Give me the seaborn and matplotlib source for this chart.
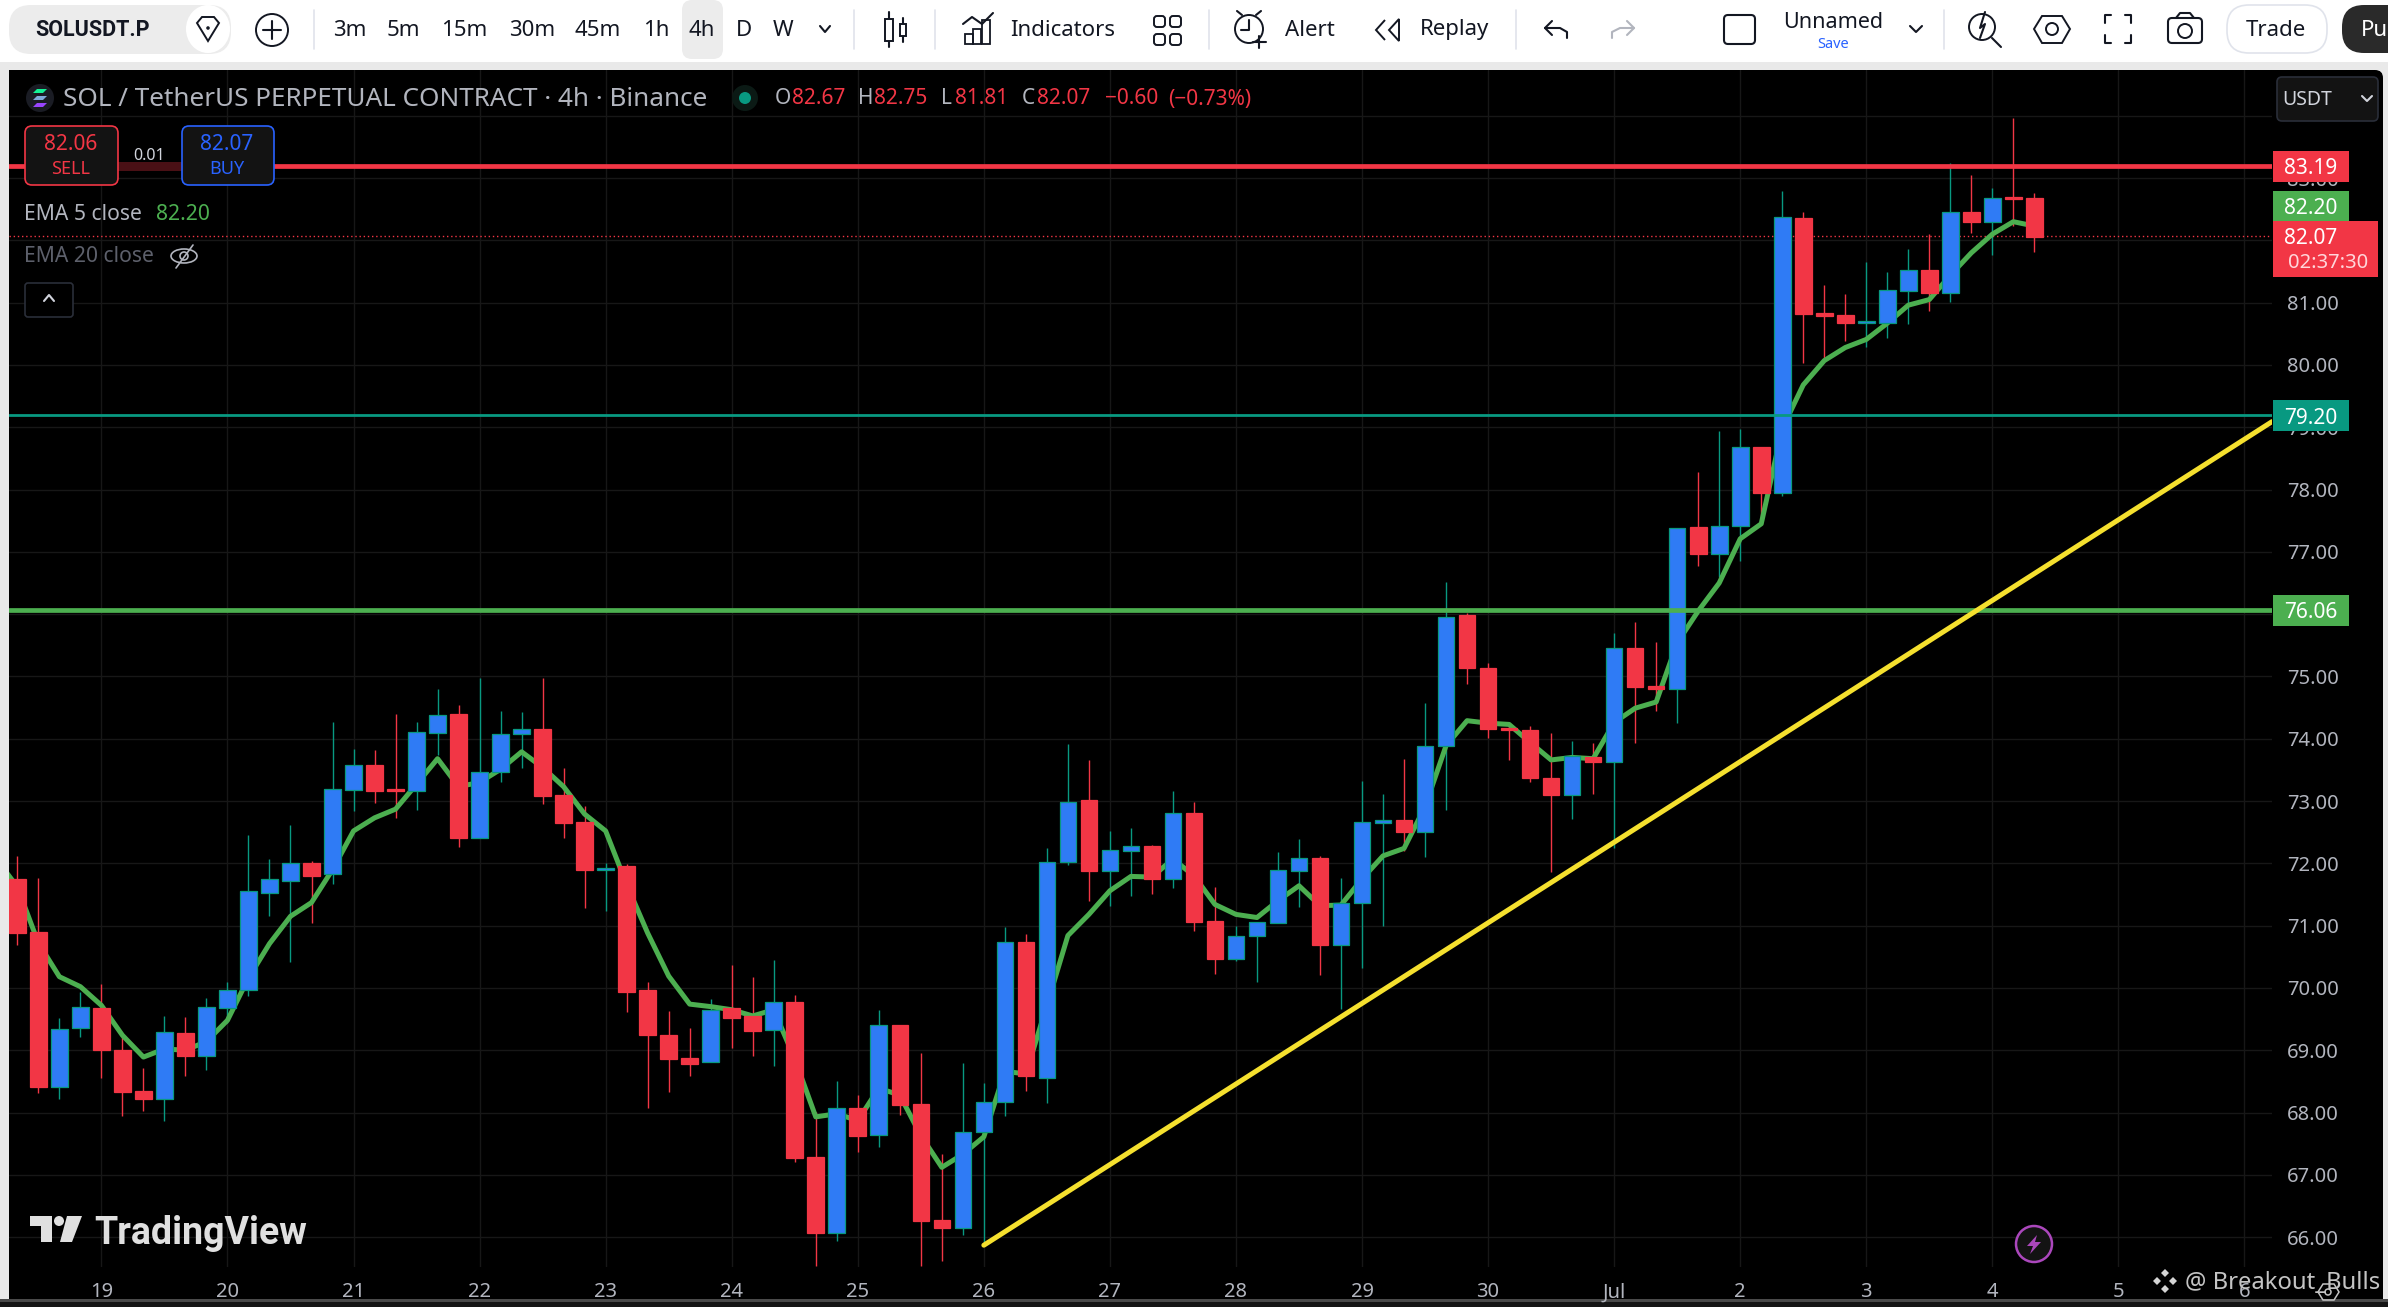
import numpy as np
import pandas as pd
import matplotlib
matplotlib.use("Agg")
import matplotlib.pyplot as plt
import seaborn as sns
from matplotlib.patches import Rectangle, Circle, Polygon, FancyBboxPatch, Ellipse

# ---------- data ----------
first_candle = -4   # candle index; 0 = the candle at day "19"
body_tops = [71.75,70.90,69.34,69.69,
 69.68,69.01,68.35,69.29,69.28,69.69,
 69.96,71.56,71.75,72.00,72.00,73.19,
 73.58,73.58,73.18,74.11,74.38,74.40,
 73.46,74.07,74.16,74.16,73.10,72.67,
 71.93,71.96,69.97,69.25,68.88,69.65,
 69.67,69.55,69.77,69.78,67.29,68.08,
 68.08,69.41,69.41,68.14,66.28,67.69,
 68.17,70.74,70.74,72.02,72.99,73.01,
 72.21,72.28,72.28,72.81,72.81,71.07,
 70.83,71.06,71.89,72.08,72.08,71.36,
 72.66,72.69,72.69,73.88,75.96,75.98,
 75.14,74.17,74.14,73.37,73.73,73.71,
 75.45,75.45,74.84,77.38,77.40,77.42,
 78.68,78.68,82.37,82.36,80.83,80.80,
 80.69,81.20,81.52,81.52,82.45,82.45,
 82.68,82.69,82.68]
body_bottoms = [70.88,68.41,68.41,69.35,
 69.01,68.33,68.21,68.21,68.91,68.91,
 69.68,69.96,71.53,71.72,71.80,71.83,
 73.18,73.16,73.16,73.16,74.10,72.41,
 72.41,73.46,74.07,73.08,72.65,71.89,
 71.90,69.94,69.25,68.86,68.78,68.81,
 69.52,69.31,69.33,67.27,66.07,66.07,
 67.63,67.64,68.12,66.26,66.15,66.15,
 67.68,68.17,68.58,68.56,72.02,71.87,
 71.87,72.20,71.75,71.75,71.06,70.46,
 70.46,70.84,71.04,71.88,70.69,70.69,
 71.37,72.65,72.50,72.51,73.89,75.13,
 74.15,74.14,73.37,73.09,73.09,73.63,
 73.63,74.83,74.80,74.80,76.97,76.97,
 77.42,77.95,77.95,80.82,80.79,80.68,
 80.68,80.68,81.19,81.16,81.16,82.30,
 82.30,82.67,82.06]
wick_highs = [72.12,71.77,69.52,69.94,
 70.06,69.24,68.72,69.55,69.54,69.84,
 70.10,72.46,72.07,72.62,72.04,74.27,
 73.84,73.82,74.40,74.27,74.80,74.54,
 74.98,74.45,74.43,74.98,73.53,72.92,
 72.01,71.99,70.09,69.63,69.36,69.83,
 70.37,70.18,70.45,69.89,68.01,68.51,
 68.28,69.65,69.41,68.96,67.34,68.80,
 68.47,70.98,70.86,72.24,73.92,73.66,
 72.52,72.57,72.30,73.16,72.99,71.62,
 70.99,71.06,72.18,72.39,72.12,71.76,
 73.32,73.11,73.67,74.57,76.51,76.02,
 75.21,74.25,74.20,74.09,73.96,73.93,
 75.69,75.87,75.55,77.38,78.28,78.94,
 78.97,78.68,82.79,82.46,81.28,81.14,
 81.65,81.49,81.86,82.10,83.24,83.05,
 82.84,83.96,82.76]
wick_lows = [70.69,68.32,68.21,69.22,
 68.55,67.94,68.03,67.87,68.58,68.69,
 69.44,69.87,71.16,70.42,71.05,71.67,
 72.84,72.97,72.72,72.86,73.74,72.26,
 72.41,73.31,73.53,72.95,72.41,71.28,
 71.24,69.61,68.08,68.33,68.59,68.81,
 69.04,68.91,68.75,67.21,65.53,65.93,
 67.37,67.45,67.96,65.53,65.62,66.04,
 65.86,67.94,68.35,68.15,71.97,71.40,
 71.32,71.48,71.51,71.60,70.91,70.22,
 70.43,70.10,71.04,71.30,70.20,69.66,
 70.32,70.99,72.20,72.10,72.86,74.88,
 74.01,73.66,73.30,71.86,72.71,73.11,
 72.25,73.93,74.44,74.25,76.78,76.59,
 76.85,77.45,77.89,80.03,80.11,80.38,
 80.29,80.43,80.65,80.86,81.01,82.12,
 81.77,82.23,81.81]
directions = list("DDUU" "DDDUDU" "UUUUDU" "UDDUUD" "UUUDDD" "UDDDDU" "DDUDDU"
                  "DUDDDU" "UUDUUD" "UUDUDD" "UUUUDU" "UUDUUD" "DDDDUD" "UDDUDU"
                  "UDUDDD" "UUUDUD" "UDD")
ema5 = [72.07,71.62,70.72,70.18,70.02,
 69.72,69.24,68.89,69.02,69.00,69.14,
 69.48,70.16,70.71,71.15,71.37,71.90,
 72.52,72.73,72.87,73.27,73.68,73.23,
 73.30,73.51,73.79,73.54,73.23,72.79,
 72.52,71.66,70.88,70.19,69.74,69.70,
 69.65,69.55,69.65,68.86,67.93,67.98,
 67.87,68.39,68.28,67.63,67.12,67.33,
 67.61,68.66,68.62,69.72,70.84,71.18,
 71.56,71.79,71.78,72.07,71.80,71.34,
 71.18,71.13,71.40,71.64,71.32,71.33,
 71.75,72.12,72.24,72.91,73.89,74.29,
 74.25,74.23,73.94,73.66,73.70,73.68,
 74.26,74.49,74.59,75.54,76.05,76.50,
 77.21,77.45,78.98,79.68,80.07,80.28,
 80.41,80.67,80.96,81.05,81.44,81.80,
 82.10,82.30,82.23]
ema_first = -5
trend_index = [42, 103.31]
trend_price = [65.87, 79.09]
resistance = 83.19
support_teal = 79.20
support_green = 76.06
last_price = 82.07
price_ticks = list(range(66, 85))
hidden_price_labels = [76, 82, 84]   # fully covered by badges in the reference
day_ticks = list(range(0, 108, 6))
day_labels = ["19","20","21","22","23","24","25","26","27","28","29","30","Jul","2","3","4","5","6"]
timeframes = ["3m","5m","15m","30m","45m","1h","4h","D","W"]

RED, BLUE, TEAL, GREEN, YEL = "#f23645", "#2f7bf5", "#089981", "#4caf50", "#f5e02e"
GREY = "#b2b5be"

sns.set_theme(style="dark")
plt.rcParams["font.family"] = ["Noto Sans", "DejaVu Sans"]

W, H = 2388, 1307
fig = plt.figure(figsize=(W/100, H/100), dpi=100, facecolor="white")

# background layer (pixel coordinates)
bg = fig.add_axes([0, 0, 1, 1], zorder=0)
bg.set_xlim(0, W); bg.set_ylim(H, 0); bg.axis("off")
bg.add_patch(Rectangle((0, 62), W, H-62, fc="#e9e9e9", ec="none"))
bg.add_patch(FancyBboxPatch((14, 75), W-24, H-80, boxstyle="round,pad=5,rounding_size=8", fc="black", ec="none"))
bg.add_patch(Rectangle((0, 1300), W, 7, fc="#151515", ec="none"))
bg.add_patch(Rectangle((0, 1299), W, 2.5, fc="#4a4a4a", ec="none"))

# main chart
L, R, T, B = 9, 2272, 70, 1267
ax = fig.add_axes([L/W, (H-B)/H, (R-L)/W, (B-T)/H], zorder=1, facecolor="black")
ax.set_xlim(-4.398, 103.31)
ax.set_ylim(65.52, 84.735)

candles = pd.DataFrame({"i": np.arange(first_candle, first_candle+len(body_tops)),
                        "top": body_tops, "bot": body_bottoms, "hi": wick_highs, "lo": wick_lows, "d": directions})
for dirn, body, edge, wick in [("U", BLUE, TEAL, TEAL), ("D", RED, RED, RED)]:
    s = candles[candles.d == dirn]
    ax.vlines(s.i, s.lo, s.hi, color=wick, lw=1.0, zorder=3)
    ax.bar(s.i, np.maximum(s.top-s.bot, 0.03), bottom=s.bot, width=0.79, color=body, edgecolor=edge, linewidth=0.9, zorder=4)

ema_df = pd.DataFrame({"i": np.arange(ema_first, ema_first+len(ema5)), "ema": ema5})
sns.lineplot(data=ema_df, x="i", y="ema", ax=ax, color=GREEN, linewidth=3.6, estimator=None, sort=False, legend=False, zorder=3.5)
trend_df = pd.DataFrame({"i": trend_index, "p": trend_price})
sns.lineplot(data=trend_df, x="i", y="p", ax=ax, color=YEL, linewidth=3.6, estimator=None, sort=False, legend=False, zorder=6)

ax.axhline(resistance, color=RED, lw=3.4, zorder=5)
ax.axhline(support_teal, color=TEAL, lw=2.0, zorder=5)
ax.axhline(support_green, color=GREEN, lw=3.4, zorder=5)
ax.axhline(last_price, color=RED, lw=1.0, ls=(0, (1, 2)), zorder=2.5)

ax.set_xticks(day_ticks, day_labels)
ax.set_yticks(price_ticks, ["" if v in hidden_price_labels else f"{v:.2f}" for v in price_ticks])
ax.yaxis.tick_right()
ax.grid(True, color="#171717", lw=1.0, zorder=0)
ax.set_axisbelow(True)
ax.set_xlabel(""); ax.set_ylabel("")
for sp in ax.spines.values():
    sp.set_visible(False)
ax.tick_params(axis="y", length=0, pad=11, labelsize=14.5, labelcolor=GREY)
ax.tick_params(axis="x", length=0, pad=11, labelsize=14.5, labelcolor=GREY)

# overlay (pixel coordinates)
ov = fig.add_axes([0, 0, 1, 1], zorder=2)
ov.set_xlim(0, W); ov.set_ylim(H, 0); ov.axis("off"); ov.patch.set_alpha(0)

DY = 3
def txt(x, y, s, size=16, color="#131722", ha="center", **kw):
    ov.text(x, y+DY, s, fontsize=size, color=color, ha=ha, va="center", **kw)

def pline(xs, ys, color="#131722", lw=1.5, **kw):
    ov.plot(xs, ys, color=color, lw=lw, solid_capstyle="round", **kw)

def rbox(x0, y0, x1, y1, r, fc, ec="none", lw=1.2, z=3):
    ov.add_patch(FancyBboxPatch((x0+r, y0+r), x1-x0-2*r, y1-y0-2*r,
                 boxstyle=f"round,pad={r},rounding_size={r}", fc=fc, ec=ec, lw=lw, zorder=z))

# --- toolbar ---
rbox(9, 5, 231, 54, 22, "#ececec", z=1)
txt(92, 27, "SOLUSDT.P", 15.5, weight="bold", family="Roboto", zorder=4)
ov.add_patch(Ellipse((208, 29), 44, 48, fc="white", ec="none", zorder=3))
ov.add_patch(Polygon([[197, 23], [202, 17], [214, 17], [219, 23], [208, 41]], closed=True, fc="none", ec="#131722", lw=1.4, zorder=4))
ov.add_patch(Circle((208, 28), 2.5, fc="#131722", zorder=4))
ov.add_patch(Circle((272, 30), 16, fc="none", ec="#131722", lw=1.4))
pline([263, 281], [30, 30]); pline([272, 272], [21, 39])
rbox(682, 0, 723, 59, 10, "#ececec", z=1)
tf_x = [350, 403, 464, 532, 598, 656, 702, 744, 783]
for x, s in zip(tf_x, timeframes):
    txt(x, 27, s, 16, weight="medium", zorder=4)
pline([820, 825, 830], [26, 32, 26])
for x in [314, 854, 935, 1209, 1516, 1944]:
    ov.plot([x, x], [10, 49], color="#e0e3eb", lw=1.2)
# candle icon
pline([889, 889], [12, 47]); ov.add_patch(Rectangle((885, 19), 8, 22, fc="white", ec="#131722", lw=1.4, zorder=4))
pline([903, 903], [18, 42]); ov.add_patch(Rectangle((900, 24), 6, 12, fc="white", ec="#131722", lw=1.4, zorder=4))
# indicators icon
pline([963, 972, 982, 993], [24, 17, 24, 13])
for x0, h in [(965, 10), (973, 15), (982, 24)]:
    ov.add_patch(Rectangle((x0, 44-h), 8, h, fc="none", ec="#131722", lw=1.3))
txt(1063, 27, "Indicators", 16, weight="medium")
for (x0, y0) in [(1154, 16), (1170, 16), (1154, 34), (1170, 34)]:
    rbox(x0, y0, x0+11, y0+11, 3, "none", "#131722", 1.4)
# alert
ov.add_patch(Circle((1249, 29), 14, fc="none", ec="#131722", lw=1.4))
pline([1249, 1249, 1241], [20, 30, 30]); pline([1259, 1259], [36, 48]); pline([1253, 1266], [42, 42])
pline([1237, 1242], [11, 15]); pline([1261, 1256], [11, 15])
txt(1310, 27, "Alert", 16, weight="medium")
ov.add_patch(Polygon([[1385, 20], [1376, 30], [1385, 40]], closed=False, fc="none", ec="#131722", lw=1.4))
ov.add_patch(Polygon([[1399, 19], [1389, 30], [1399, 41]], closed=True, fc="none", ec="#131722", lw=1.4))
txt(1455, 27, "Replay", 16, weight="medium")
pline([1552, 1545, 1552], [21, 28, 35]); pline([1545, 1560, 1567, 1567], [28, 28, 32, 38])
pline([1627, 1634, 1627], [21, 28, 35], color="#b2b5be"); pline([1634, 1620, 1612, 1612], [28, 28, 32, 38], color="#b2b5be")
rbox(1724, 15, 1755, 44, 4, "none", "#131722", 1.5)
txt(1833, 20, "Unnamed", 15.5, weight="medium")
txt(1833, 41, "Save", 10.5, color="#2962ff")
pline([1910, 1916, 1922], [26, 32, 26])
# tools
ov.add_patch(Circle((1982, 27), 13, fc="none", ec="#131722", lw=1.4))
pline([1992, 2001], [38, 47]); pline([1985, 1980, 1985, 1980], [12, 28, 24, 38])
ov.add_patch(Polygon([[2042, 16], [2062, 16], [2070, 29], [2062, 43], [2042, 43], [2034, 29]], closed=True, fc="none", ec="#131722", lw=1.4))
ov.add_patch(Circle((2052, 29), 6, fc="none", ec="#131722", lw=1.4))
for sx, sy in [(-1, -1), (1, -1), (-1, 1), (1, 1)]:
    pline([2118+sx*7, 2118+sx*13, 2118+sx*13], [29+sy*14, 29+sy*14, 29+sy*6])
rbox(2168, 18, 2202, 43, 4, "none", "#131722", 1.5)
ov.add_patch(Circle((2185, 31), 7, fc="none", ec="#131722", lw=1.4))
pline([2176, 2180, 2190, 2194], [18, 13, 13, 18])
rbox(2227, 5, 2327, 53, 22, "white", "#e0e3eb", 1.2)
txt(2276, 27, "Trade", 16, weight="medium", zorder=4)
ov.add_patch(FancyBboxPatch((2364, 27), 60, 4, boxstyle="round,pad=22,rounding_size=22", fc="#2a2a2a", ec="none", zorder=3, clip_on=True))
txt(2374, 27, "Pu", 16, color="white", weight="medium", zorder=4, clip_on=True)

# --- legend ---
ov.add_patch(Circle((40, 98), 14, fc="#1a1c24", ec="none", zorder=3))
for yy, col in [(91, "#14f195"), (98, "#7fa8d8"), (105, "#9945ff")]:
    ov.add_patch(Polygon([[33, yy+2], [37, yy-2], [47, yy-2], [43, yy+2]], closed=True, fc=col, ec="none", zorder=4))
txt(63, 96, "SOL / TetherUS PERPETUAL CONTRACT · 4h · Binance", 18.8, color=GREY, ha="left")
ov.add_patch(Circle((745, 98), 13, fc="#0b1a15", ec="none", zorder=3))
ov.add_patch(Circle((745, 98), 6, fc="#089981", ec="none", zorder=4))
for x, s in [(775, "O"), (858, "H"), (941, "L"), (1022, "C")]:
    txt(x, 96, s, 15, color=GREY, ha="left")
for x, s in [(792, "82.67"), (874, "82.75"), (955, "81.81"), (1037, "82.07"), (1105, "−0.60"), (1168, "(−0.73%)")]:
    txt(x, 96, s, 15, color=RED, ha="left")

# sell/buy
ov.add_patch(Rectangle((118, 162), 64, 9, fc="#4a1015", ec="none", zorder=3))
rbox(25, 126, 118, 185, 7, "#131313", RED, 1.2, z=4)
rbox(182, 126, 274, 185, 7, "#131313", "#2962ff", 1.2, z=4)
txt(71, 141.5, "82.06", 15, color=RED, zorder=5)
txt(71, 165.5, "SELL", 13, color=RED, zorder=5)
txt(227, 141.5, "82.07", 15, color="#2962ff", zorder=5)
txt(227, 165.5, "BUY", 13, color="#2962ff", zorder=5)
txt(149, 152.5, "0.01", 11.5, color="#d1d4dc", zorder=5)

txt(24, 211.5, "EMA 5 close", 15.2, color=GREY, ha="left")
txt(156, 211.5, "82.20", 15.2, color=GREEN, ha="left")
txt(24, 253.5, "EMA 20 close", 15.2, color="#5d606b", ha="left")
ov.add_patch(Ellipse((184, 256), 26, 14, fc="none", ec=GREY, lw=1.2))
ov.add_patch(Circle((184, 256), 4, fc="none", ec=GREY, lw=1.2))
pline([176, 193], [268, 245], color=GREY, lw=1.2)
rbox(25, 283, 73, 317, 3, "black", "#2a2e39", 1.2, z=3)
pline([44, 49, 54], [301, 295, 301], color="#d1d4dc", zorder=5)

# price-scale badges
rbox(2277, 77, 2378, 121, 5, "#131313", "#2a2e39", 1.2, z=5)
txt(2307, 97, "USDT", 14, color="#d1d4dc", zorder=6)
pline([2362, 2367, 2372], [96, 101, 96], color="#d1d4dc", zorder=6)
def badge(y0, y1, x1, fc, z=4):
    ov.add_patch(Rectangle((2273, y0), x1-2273, y1-y0, fc=fc, ec="none", zorder=z))
def btxt(x, y, s, col="white", size=15):
    ov.text(x, y+3, s, fontsize=size, color=col, ha="center", va="center", zorder=7, weight="medium")
badge(151, 182, 2349, RED); btxt(2311, 166, "83.19")
badge(191, 222, 2349, GREEN); btxt(2311, 206, "82.20")
badge(221, 277, 2378, RED, z=5); btxt(2311, 236, "82.07")
btxt(2328, 260, "02:37:30", "#ffd6da", 14.5)
badge(400, 431, 2349, TEAL); btxt(2311, 415, "79.20")
badge(595, 626, 2349, GREEN); btxt(2311, 610, "76.06")

# watermark
wm = "#e0e0e0"
ov.add_patch(Polygon([[30, 1216], [52, 1216], [52, 1242], [41, 1242], [41, 1226], [30, 1226]], closed=True, fc=wm, ec="none", zorder=3))
ov.add_patch(Circle((59, 1221), 5, fc=wm, ec="none", zorder=3))
ov.add_patch(Polygon([[67, 1216], [82, 1216], [72, 1242], [60, 1242]], closed=True, fc=wm, ec="none", zorder=3))
ov.text(94, 1233, "TradingView", fontsize=27, color=wm, ha="left", va="center", weight="bold", family="Roboto", zorder=3)

# bolt
ov.add_patch(Ellipse((2034, 1244), 36, 36, fc="#131313", ec="#ab47bc", lw=1.8, zorder=3))
ov.add_patch(Polygon([[2037, 1235], [2027, 1246], [2033, 1246], [2030, 1254], [2041, 1242], [2035, 1242]], closed=True, fc="#ab47bc", ec="none", zorder=4))

# author tag
for dx, dy in [(0, -8), (-8, 0), (8, 0), (0, 8)]:
    ov.add_patch(Polygon([[2165+dx-4, 1281+dy], [2165+dx, 1281+dy-4], [2165+dx+4, 1281+dy], [2165+dx, 1281+dy+4]],
                         closed=True, fc="#d5d5d5", ec="none", zorder=5))
ov.text(2185, 1283, "@ Breakout_Bulls", fontsize=17.2, color="#c4c4c4", ha="left", va="center", zorder=5)
ov.add_patch(Polygon([[2318, 1292], [2323, 1284], [2334, 1284], [2339, 1292], [2334, 1300], [2323, 1300]], closed=True, fc="none", ec="#c4c4c4", lw=1.1, zorder=5))
ov.add_patch(Circle((2328, 1292), 3, fc="none", ec="#c4c4c4", lw=1.1, zorder=5))

fig.savefig("out.png", dpi=100, facecolor="white")
